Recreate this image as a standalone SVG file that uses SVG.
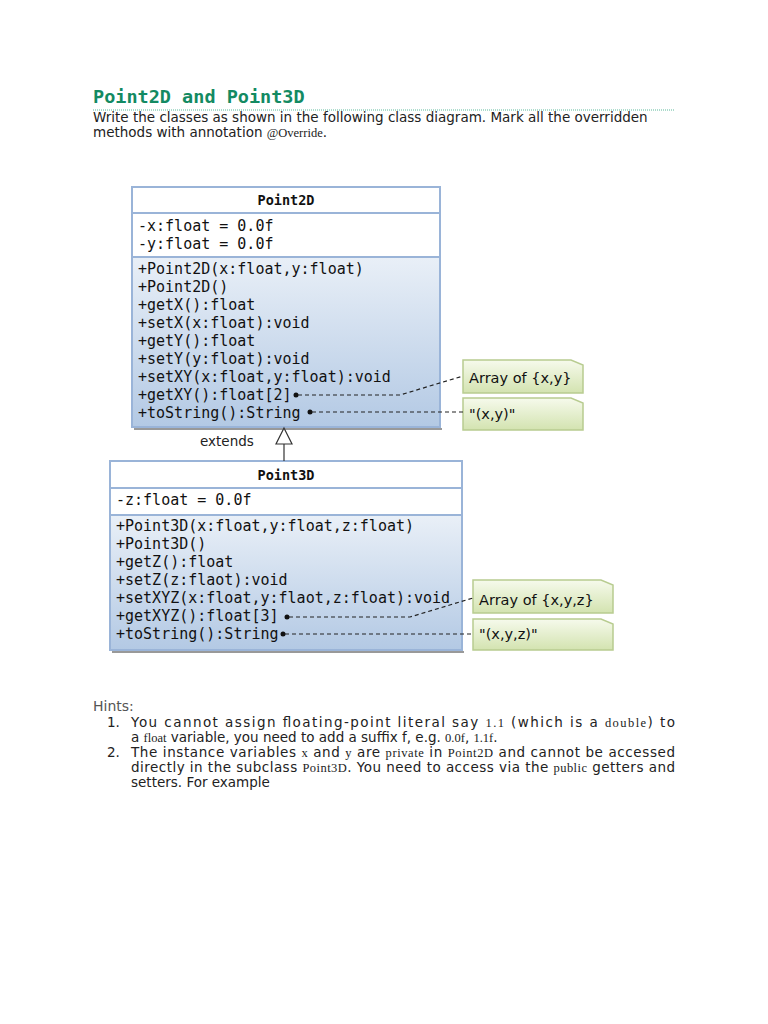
<svg xmlns="http://www.w3.org/2000/svg" width="768" height="1024" viewBox="0 0 768 1024">
<defs>
<linearGradient id="g" x1="0" y1="0" x2="0" y2="1"><stop offset="0" stop-color="#ffffff"/><stop offset="1" stop-color="#b3c9e4"/></linearGradient>
<linearGradient id="n" x1="0" y1="0" x2="0" y2="1"><stop offset="0" stop-color="#f6faec"/><stop offset="1" stop-color="#d3e3b0"/></linearGradient>
</defs>
<style>
.t{font-family:"DejaVu Sans",sans-serif;font-size:13.5px;fill:#222}
.m{font-family:"DejaVu Sans Mono",monospace;font-size:15px;fill:#111}
.h{font-family:"DejaVu Sans Mono",monospace;font-size:13.5px;font-weight:bold;fill:#111}
.s{font-family:"Liberation Serif",serif;font-size:12.5px}
.box{stroke:#9ab4d8;stroke-width:2}
.note{fill:url(#n);stroke:#b8cc90;stroke-width:1.5}
.nt{font-family:"DejaVu Sans",sans-serif;font-size:14.5px;fill:#111}
.c{fill:none;stroke:#222;stroke-width:1.2;stroke-dasharray:4 3}
</style>
<rect width="768" height="1024" fill="#fff"/>
<text x="93" y="103" font-family="DejaVu Sans Mono,monospace" font-size="18.5" font-weight="bold" fill="#138a62">Point2D and Point3D</text>
<line x1="93" y1="110" x2="675" y2="110" stroke="#5ab89a" stroke-dasharray="1 1"/>
<text class="t" x="93" y="122">Write the classes as shown in the following class diagram. Mark all the overridden</text>
<text class="t" x="93" y="137">methods with annotation <tspan class="s" font-size="13.5">@Override</tspan>.</text>

<g id="Point2D">
<rect x="132" y="187" width="308" height="240" fill="url(#g)" class="box"/>
<rect x="133" y="188" width="306" height="69" fill="#fff"/>
<line x1="132" y1="213" x2="440" y2="213" class="box"/>
<line x1="132" y1="257" x2="440" y2="257" class="box"/>
<line x1="134" y1="429" x2="442" y2="429" stroke="#999" stroke-width="2"/>
<text class="h" x="286" y="205" text-anchor="middle">Point2D</text>
<text class="m" x="138" y="231">-x:float = 0.0f</text>
<text class="m" x="138" y="249">-y:float = 0.0f</text>
<text class="m" x="138" y="274">+Point2D(x:float,y:float)</text>
<text class="m" x="138" y="292">+Point2D()</text>
<text class="m" x="138" y="310">+getX():float</text>
<text class="m" x="138" y="328">+setX(x:float):void</text>
<text class="m" x="138" y="346">+getY():float</text>
<text class="m" x="138" y="364">+setY(y:float):void</text>
<text class="m" x="138" y="382">+setXY(x:float,y:float):void</text>
<text class="m" x="138" y="400">+getXY():float[2]</text>
<text class="m" x="138" y="418">+toString():String</text>
</g>

<g id="Point3D">
<rect x="110" y="461" width="352" height="189" fill="url(#g)" class="box"/>
<rect x="111" y="462" width="350" height="53" fill="#fff"/>
<line x1="110" y1="488" x2="462" y2="488" class="box"/>
<line x1="110" y1="515" x2="462" y2="515" class="box"/>
<line x1="112" y1="652" x2="464" y2="652" stroke="#999" stroke-width="2"/>
<text class="h" x="286" y="480" text-anchor="middle">Point3D</text>
<text class="m" x="116" y="505">-z:float = 0.0f</text>
<text class="m" x="116" y="531">+Point3D(x:float,y:float,z:float)</text>
<text class="m" x="116" y="549">+Point3D()</text>
<text class="m" x="116" y="567">+getZ():float</text>
<text class="m" x="116" y="585">+setZ(z:flaot):void</text>
<text class="m" x="116" y="603">+setXYZ(x:float,y:flaot,z:float):void</text>
<text class="m" x="116" y="621">+getXYZ():float[3]</text>
<text class="m" x="116" y="639">+toString():String</text>
</g>

<g id="note1"><path class="note" d="M463 360 H571 L583 365 V393 H463 Z"/><text class="nt" x="469" y="383">Array of {x,y}</text></g>
<g id="note2"><path class="note" d="M463 398 H571 L583 403 V430 H463 Z"/><text class="nt" x="469" y="419">"(x,y)"</text></g>
<g id="note3"><path class="note" d="M473 580 H601 L613 585 V613 H473 Z"/><text class="nt" x="479" y="605">Array of {x,y,z}</text></g>
<g id="note4"><path class="note" d="M473 619 H601 L613 624 V650 H473 Z"/><text class="nt" x="479" y="639">"(x,y,z)"</text></g>

<g id="connectors">
<circle cx="296" cy="395" r="2.5" fill="#111"/>
<path class="c" d="M298 395 H400 L463 376"/>
<circle cx="310" cy="412" r="2.5" fill="#111"/>
<path class="c" d="M312 412 H463"/>
<circle cx="287" cy="617" r="2.5" fill="#111"/>
<path class="c" d="M289 617 H410 L473 598"/>
<circle cx="283" cy="634" r="2.5" fill="#111"/>
<path class="c" d="M285 634 H473"/>
<line x1="284" y1="444" x2="284" y2="461" stroke="#333" stroke-width="1.2"/>
<path d="M284 428 L276 444 H292 Z" fill="#fff" stroke="#333" stroke-width="1.2"/>
<text class="t" x="200" y="446" font-size="15">extends</text>
</g>

<text x="93" y="711" font-family="DejaVu Sans,sans-serif" font-size="14" fill="#555">Hints:</text>
<g class="t">
<text x="107" y="727">1.</text>
<text x="131" y="727" textLength="544" lengthAdjust="spacing">You cannot assign floating-point literal say <tspan class="s">1.1</tspan> (which is a <tspan class="s">double</tspan>) to</text>
<text x="131" y="742">a <tspan class="s">float</tspan> variable, you need to add a suffix f, e.g. <tspan class="s">0.0f</tspan>, <tspan class="s">1.1f</tspan>.</text>
<text x="107" y="757">2.</text>
<text x="131" y="757" textLength="544" lengthAdjust="spacing">The instance variables <tspan class="s">x</tspan> and <tspan class="s">y</tspan> are <tspan class="s">private</tspan> in <tspan class="s">Point2D</tspan> and cannot be accessed</text>
<text x="131" y="772" textLength="544" lengthAdjust="spacing">directly in the subclass <tspan class="s">Point3D</tspan>. You need to access via the <tspan class="s">public</tspan> getters and</text>
<text x="131" y="787">setters. For example</text>
</g>
</svg>
